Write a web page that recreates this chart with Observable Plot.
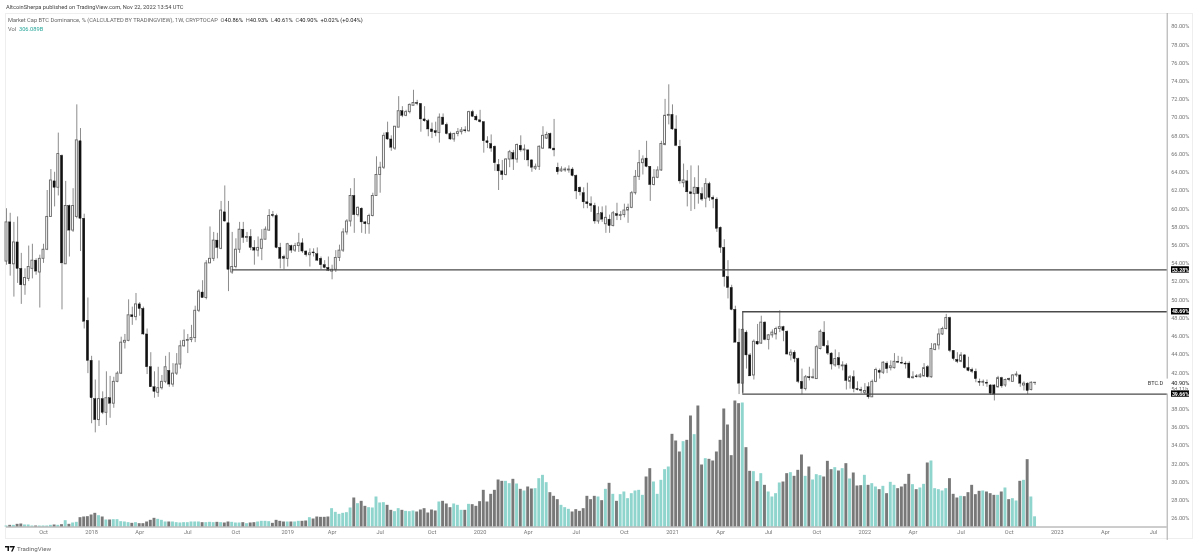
<!DOCTYPE html>
<html>
<head>
<meta charset="utf-8">
<script src="https://cdn.jsdelivr.net/npm/d3@7"></script>
<script src="https://cdn.jsdelivr.net/npm/@observablehq/plot@0.6"></script>
<style>
html,body{margin:0;padding:0;background:#fff;font-family:Roboto,sans-serif;}
#page{width:1200px;height:557px;overflow:hidden;position:relative;}
#head{height:13px;line-height:14px;font-size:5.7px;color:#444;padding-left:6px;box-sizing:border-box;filter:blur(.2px);}
#wrap{position:relative;width:1200px;height:527px;}
#wrap svg{position:absolute;left:0;top:0;filter:blur(.3px);}
#frame{position:absolute;left:5px;top:0;width:1188px;height:526px;border:1px solid #eee;box-sizing:border-box;}
#legend{position:absolute;left:8px;top:3px;font-size:5.7px;line-height:9px;color:#666;white-space:pre;filter:blur(.2px);}
#legend b{font-weight:400;color:#222;}
#legend i{font-style:normal;color:#26a69a;}
#foot{height:17px;display:flex;align-items:center;padding-left:5px;font-size:6.2px;color:#666;gap:2px;filter:blur(.2px);}
</style>
</head>
<body>
<div id="page">
<div id="head">AltcoinSherpa published on TradingView.com, Nov 22, 2022 13:54 UTC</div>
<div id="wrap">
<div id="frame"></div>
<div id="legend">Market Cap BTC Dominance, % (CALCULATED BY TRADINGVIEW), 1W, CRYPTOCAP  O<b>40.86%</b>  H<b>40.93%</b>  L<b>40.61%</b>  C<b>40.90%</b>  <b>+0.02% (+0.04%)</b>
Vol  <i>306.089B</i></div>
</div>
<div id="foot"><svg width="10" height="6" viewBox="0 0 10 6"><path d="M0 0H4V5H2.5V1.5H0ZM4.6 0H10L7.6 5.6H6L8 1.4H4.6Z" fill="#111"/></svg><span>TradingView</span></div>
</div>
<script>
const opens = [
54.2,58.5,53.9,56.3,53.4,51.6,52.3,53.4,54.3,53.0,
54.5,55.5,59.1,63.0,62.3,65.8,53.9,60.3,57.6,59.1,
67.4,58.9,47.7,43.3,39.1,36.8,39.1,37.6,39.2,38.6,
41.0,41.9,45.3,45.5,48.3,48.1,49.5,49.0,46.2,42.6,
40.4,39.8,40.3,41.0,42.2,40.7,41.9,42.9,44.9,45.5,
45.6,45.8,48.8,50.8,50.2,54.0,54.5,56.5,55.6,59.6,
58.4,53.0,53.6,55.5,57.7,56.8,56.9,55.7,55.4,55.6,
56.6,57.6,59.3,59.2,55.7,54.7,54.5,55.9,55.4,55.9,
56.2,55.3,54.9,55.2,55.0,54.5,53.8,53.5,53.1,53.3,
54.6,55.4,57.4,58.6,61.4,59.3,60.0,58.5,58.3,59.2,
61.4,63.7,64.5,68.3,67.6,66.6,68.9,70.7,70.2,70.6,
71.3,71.6,71.5,69.8,69.6,68.7,68.5,68.3,70.0,69.2,
68.2,67.6,68.2,68.4,68.6,68.5,70.6,70.1,69.7,69.5,
67.4,67.1,66.8,64.8,64.1,63.7,65.4,66.1,65.4,66.9,
66.4,66.4,65.3,64.4,64.6,66.6,67.7,68.2,66.6,64.5,
64.1,64.2,64.2,64.3,63.6,62.3,61.7,60.7,60.5,60.3,
58.6,59.5,58.3,58.8,58.1,59.4,59.2,59.3,59.8,60.1,
61.7,63.5,65.0,65.5,64.6,62.6,63.4,64.2,67.0,70.2,
70.3,68.7,66.8,62.8,63.0,61.8,61.6,62.3,61.6,61.1,
62.7,61.2,61.0,57.9,55.7,52.5,51.3,48.9,45.3,40.8,
46.4,43.9,41.7,45.4,45.2,47.5,45.6,46.1,46.2,46.8,
47.0,46.5,43.9,44.2,43.5,41.0,40.2,41.5,41.4,41.3,
44.6,46.4,44.9,44.1,42.8,43.6,42.7,42.8,41.0,41.5,
40.2,40.1,39.8,40.4,39.3,41.0,42.2,42.0,43.0,42.5,
42.5,43.2,43.1,43.0,43.0,41.4,41.6,41.5,41.6,42.6,
41.5,44.5,45.0,46.2,46.8,48.0,44.4,43.4,43.2,43.9,
42.5,42.3,42.1,41.0,40.9,40.9,40.6,40.6,40.4,41.4,
40.6,41.3,41.0,41.7,41.7,40.6,40.8,40.1,40.86];
const highs = [
60.0,59.5,58.5,59.1,55.1,53.4,55.9,56.1,54.5,54.9,
56.1,62.0,64.3,64.0,68.3,65.9,63.0,60.4,62.2,71.4,
68.8,59.4,50.2,43.8,41.2,43.3,39.9,42.1,41.6,41.5,
42.1,45.9,46.2,50.0,49.2,50.7,49.7,49.2,46.8,44.2,
42.1,42.6,41.7,43.8,44.2,43.0,44.1,45.5,46.7,46.2,
47.2,49.3,51.1,52.1,54.3,58.0,57.4,57.3,60.8,62.5,
60.8,57.4,56.7,58.5,58.5,57.4,57.7,56.5,56.9,57.7,
58.0,59.9,59.7,59.4,56.2,54.9,56.2,56.0,56.2,57.3,
56.7,55.4,55.6,55.6,55.7,54.7,54.3,54.7,53.8,55.4,
56.0,57.8,58.8,62.2,63.3,60.2,60.1,58.6,59.4,61.7,
65.7,65.1,68.3,69.5,68.0,69.0,72.3,71.2,70.8,71.5,
73.0,71.9,71.5,71.2,69.8,69.4,69.5,70.4,70.4,69.4,
68.4,68.3,68.8,68.9,69.0,70.7,70.8,70.3,70.8,69.5,
67.9,68.1,66.9,65.4,65.3,65.5,66.4,66.4,67.1,68.0,
67.0,66.5,65.4,64.9,66.9,69.0,68.4,68.3,69.8,65.0,
64.6,64.5,64.7,64.5,63.7,62.4,62.3,62.8,61.3,60.6,
60.2,60.2,60.3,59.3,59.7,60.6,59.7,60.5,60.5,61.9,
64.2,66.4,65.8,67.4,64.6,64.3,64.6,67.4,72.0,73.6,
71.4,70.2,67.5,64.9,64.2,64.7,63.4,64.7,62.3,63.3,
62.9,61.4,61.2,58.0,56.6,54.3,51.6,49.3,46.8,46.8,
46.6,44.1,45.6,47.3,48.2,47.6,46.2,46.7,47.0,48.8,
47.1,46.6,44.5,44.4,43.6,42.4,41.7,42.6,42.4,45.0,
46.7,47.6,45.5,44.2,44.5,44.2,43.2,43.0,41.7,42.2,
41.0,40.4,40.8,40.9,41.2,42.5,42.4,43.2,43.2,43.3,
44.1,43.8,43.7,43.2,43.2,42.1,41.8,41.9,43.0,42.8,
45.2,45.2,46.8,47.0,48.4,48.1,44.4,44.2,44.2,44.0,
43.7,42.5,42.4,41.3,41.2,41.2,40.7,40.7,41.6,41.5,
41.3,41.4,41.8,42.1,41.8,41.0,40.9,41.0,40.93];
const lows = [
53.8,52.6,50.3,51.8,49.5,50.5,52.0,52.3,52.7,49.1,
54.0,55.4,59.1,60.2,61.4,48.9,53.9,54.7,57.4,58.9,
55.3,46.8,41.9,36.4,35.4,36.1,37.4,36.2,37.0,38.1,
40.9,41.8,44.6,45.4,47.2,47.7,48.2,46.1,41.8,40.4,
39.2,39.3,40.1,40.8,40.4,40.4,41.7,42.4,44.8,44.1,
45.3,45.3,48.6,50.2,50.0,54.0,54.2,54.5,55.5,58.5,
50.9,52.8,53.4,55.1,56.2,56.3,55.4,53.8,54.7,54.3,
56.6,57.5,59.0,55.6,53.4,53.3,53.6,55.1,55.2,55.2,
55.1,54.7,53.6,54.7,54.2,53.3,53.4,53.1,52.2,53.0,
54.2,55.2,57.1,58.0,57.3,59.1,57.3,57.2,57.2,59.1,
61.4,61.7,64.3,67.5,66.3,66.4,68.9,70.0,70.1,70.4,
71.3,71.3,68.4,69.5,67.9,67.7,67.9,67.2,69.2,68.1,
67.5,67.3,67.9,68.1,68.3,68.4,70.0,69.6,69.4,66.1,
66.6,66.2,64.1,62.0,63.1,63.6,64.5,64.2,65.0,66.2,
65.3,64.6,64.0,64.2,64.2,66.5,67.6,66.5,65.7,63.7,
64.0,64.0,63.9,63.5,61.0,61.4,60.0,60.0,59.6,58.3,
58.3,58.5,57.3,57.3,58.0,58.7,58.7,59.0,58.4,60.0,
61.5,63.1,63.7,64.5,60.8,62.5,63.3,64.1,66.9,69.2,
68.6,66.8,62.7,62.3,60.2,59.7,59.9,60.5,60.8,60.1,
60.8,60.0,57.4,55.1,51.4,50.1,48.8,45.3,39.6,39.8,
42.4,41.6,41.2,45.0,45.1,45.5,44.5,45.8,45.6,46.4,
45.4,43.9,43.3,43.1,40.8,39.6,40.0,41.1,41.3,41.3,
44.5,44.8,43.9,42.3,42.6,42.4,42.2,40.1,40.2,39.8,
40.0,39.7,39.6,39.1,39.3,40.9,41.3,41.8,41.9,42.2,
42.4,43.0,42.9,42.4,41.3,41.3,41.4,41.4,41.5,41.4,
41.4,44.4,44.5,46.1,46.7,44.2,43.3,43.0,43.1,42.4,
42.1,41.9,40.9,40.5,40.5,40.4,39.5,38.9,40.3,40.3,
40.4,41.0,41.0,41.5,40.4,40.0,39.6,40.0,40.61];
const closes = [
58.5,53.9,56.3,53.4,51.6,52.4,53.6,54.3,53.1,54.5,
55.5,59.1,63.1,62.3,66.0,54.0,60.3,57.6,60.3,67.5,
58.9,47.6,43.3,39.2,36.8,39.1,37.6,39.2,38.6,41.0,
41.9,45.3,45.5,48.3,48.1,49.5,49.0,46.2,42.6,40.4,
39.9,40.3,41.0,42.6,40.7,41.9,42.9,44.9,45.5,45.6,
45.8,48.8,50.9,50.2,54.0,54.5,56.5,55.7,59.8,58.6,
53.3,53.6,55.5,57.7,56.8,56.9,55.7,55.4,55.7,56.6,
57.7,59.2,59.2,55.7,54.5,54.5,56.1,55.4,55.9,56.2,
55.3,54.9,55.1,55.1,54.3,53.8,53.5,53.2,53.3,54.6,
55.4,57.4,58.6,61.4,59.3,60.1,58.5,58.3,59.2,61.4,
63.7,64.5,68.0,67.6,66.7,69.0,70.7,70.2,70.6,71.4,
71.6,71.5,69.8,69.6,68.7,68.4,68.3,70.0,69.2,68.2,
67.6,68.2,68.4,68.6,68.5,70.6,70.1,69.7,69.5,67.4,
67.2,66.6,65.0,64.1,63.7,65.4,66.2,65.4,67.0,66.4,
66.5,65.3,64.5,64.6,66.8,68.0,68.1,66.6,66.4,64.0,
64.3,64.3,64.3,63.6,61.9,61.8,60.7,60.5,60.3,58.6,
59.4,58.8,59.0,58.1,59.5,59.2,59.3,59.8,60.1,61.7,
63.5,65.0,65.4,64.6,62.6,63.4,64.2,67.1,70.2,70.3,
68.7,66.9,63.0,63.1,61.8,61.6,62.3,61.6,61.0,62.7,
61.2,61.0,57.8,55.7,52.5,51.3,48.9,45.3,40.8,46.7,
43.9,41.6,45.4,45.1,47.5,45.6,46.1,46.4,46.8,47.0,
46.6,44.0,44.2,43.5,41.0,40.2,41.5,41.4,41.5,44.8,
46.5,44.9,44.1,42.9,43.5,42.8,42.8,41.1,41.5,40.2,
40.1,40.0,40.0,39.3,41.0,42.3,42.0,43.1,42.4,42.7,
43.2,43.1,43.0,42.9,41.4,41.5,41.5,41.7,42.5,41.5,
44.6,45.1,46.2,46.8,48.0,44.4,43.5,43.2,43.9,42.5,
42.2,42.1,41.3,40.9,41.0,40.8,39.7,39.6,41.4,40.5,
41.2,41.2,41.7,41.8,40.8,40.8,40.0,40.9,40.90];
const volumes = [
30,50,50,80,90,60,60,30,30,30,
30,30,50,60,50,70,190,80,120,140,
280,300,310,360,410,340,300,210,210,220,
220,160,150,130,110,130,100,100,150,200,
260,230,200,150,150,150,130,120,130,130,
150,150,150,130,130,140,130,140,130,120,
150,140,120,120,130,100,120,130,150,170,
170,160,110,200,170,150,150,150,150,170,
170,180,280,240,300,290,290,300,550,440,
380,410,430,570,870,700,770,620,580,570,
900,720,730,650,500,460,550,500,470,460,
480,450,510,550,420,510,480,750,770,690,
580,690,650,500,500,680,670,620,760,1100,
750,980,1100,1410,1370,1370,1300,1430,1290,1130,
1080,1200,1140,1150,1450,1550,1330,1030,920,820,
650,580,530,450,520,470,550,920,820,920,
900,790,1130,1310,980,770,970,1050,850,1000,
1080,1100,950,1500,1750,1350,980,1400,1720,1800,
2780,2580,2250,2560,2600,3330,2770,3630,1860,2050,
2030,1980,2250,2600,3540,3060,2140,3780,3700,3720,
2380,1670,1660,1360,1600,1250,1050,900,1000,1320,
1350,1600,1630,1520,1700,2160,1520,1800,1410,1570,
1540,1500,1970,1720,1780,1680,1750,1900,1440,1620,
1230,1240,1550,1250,1300,1200,1120,1220,1000,1340,
1250,1150,1200,1280,1580,1270,1120,1170,1280,1920,
1980,1150,1120,1080,1150,1450,980,870,920,910,
1030,1250,970,1070,1080,1050,1000,950,950,1050,
1170,820,850,780,1370,1400,2020,900,306];

const firstWeek = "2017-07-24";
const lastAxisDate = "2023-07-29";
const priceTicks = [80,78,76,74,72,70,68,66,64,62,60,58,56,54,52,50,48,46,44,42,38,36,34,32,30,28,26];
const timeTicks = ["2017-10-02","2018-01-01","2018-04-02","2018-07-02","2018-10-01","2019-01-07","2019-04-01","2019-07-01","2019-10-07","2020-01-06","2020-04-06","2020-07-06","2020-10-05","2021-01-04","2021-04-05","2021-07-05","2021-10-04","2022-01-03","2022-04-04","2022-07-04","2022-10-03","2023-01-02","2023-04-03","2023-07-03"];
const timeLabels = ["Oct","2018","Apr","Jul","Oct","2019","Apr","Jul","Oct","2020","Apr","Jul","Oct","2021","Apr","Jul","Oct","2022","Apr","Jul","Oct","2023","Apr","Jul"];
const levelValues = [53.28,48.69,39.66];
const levelStartWeeks = [61,199,199];
const TEAL = "#8fd4cd", GRAY = "#787878", INK = "#4a4a4a";
const FONT = "Roboto, sans-serif";

const start = new Date(firstWeek + "T00:00:00Z");
const end = new Date(lastAxisDate + "T00:00:00Z");
const weekOf = i => d3.utcDay.offset(start, 7 * i);
const rows = opens.map((o, i) => ({
  date: weekOf(i), o, h: highs[i], l: lows[i], c: closes[i], v: volumes[i], up: closes[i] >= o
}));
const left = (d, hours) => d3.utcHour.offset(d, -hours);
const right = (d, hours) => d3.utcHour.offset(d, hours);
const xScale = {type: "utc", domain: [start, end]};
const margins = {marginLeft: 6, marginRight: 33.3};

const volumePlot = Plot.plot({
  width: 1200, height: 527, ...margins, marginTop: 387.5, marginBottom: 13.5,
  x: xScale,
  y: {domain: [0, 3780], axis: null},
  style: {background: "transparent", fontFamily: FONT},
  marks: [
    Plot.rectY(rows, {x1: d => left(d.date, 66), x2: d => right(d.date, 66), y1: 0, y2: "v", fill: d => d.up ? TEAL : GRAY, inset: 0}),
    Plot.ruleY([0], {stroke: "#9a9a9a", strokeWidth: 1, x1: start, x2: end}),
    Plot.axisX({
      ticks: timeTicks.map(t => new Date(t + "T00:00:00Z")),
      tickFormat: d => timeLabels[timeTicks.indexOf(d3.utcFormat("%Y-%m-%d")(d))],
      tickSize: 0, tickPadding: 3, fontSize: 5.6, fill: "#777", label: null
    })
  ]
});

const levels = levelValues.map((y, i) => ({y, x1: weekOf(levelStartWeeks[i]), x2: end}));
const pct = d => d.toFixed(2) + "%";
const last = rows[rows.length - 1];
const axisGaps = [{y1: 23.6, y2: 39.66}, {y1: 41.3, y2: 81.43}];

const pricePlot = Plot.plot({
  width: 1200, height: 527, ...margins, marginTop: 13, marginBottom: 22,
  x: {...xScale, axis: null},
  y: {domain: [26, 80]},
  style: {background: "transparent", fontFamily: FONT},
  marks: [
    Plot.ruleX(axisGaps, {x: () => end, y1: "y1", y2: "y2", stroke: "#a5a5a5", strokeWidth: 1}),
    Plot.axisY({
      anchor: "right", ticks: priceTicks, tickFormat: pct, tickSize: 0, tickPadding: 4,
      fontSize: 5.6, fill: "#777", label: null
    }),
    Plot.ruleX(rows, {x: "date", y1: "l", y2: "h", stroke: "#6e6e6e", strokeWidth: 0.8}),
    Plot.rect(rows.filter(d => d.up), {
      x1: d => left(d.date, 44), x2: d => right(d.date, 44), y1: "o", y2: "c",
      fill: "white", stroke: "#666", strokeWidth: 0.9
    }),
    Plot.rect(rows.filter(d => !d.up), {
      x1: d => left(d.date, 50), x2: d => right(d.date, 50), y1: "o", y2: "c",
      fill: "#111", stroke: "#111", strokeWidth: 0.4
    }),
    Plot.ruleY(levels, {y: "y", x1: "x1", x2: "x2", stroke: INK, strokeWidth: 1.3}),
    Plot.ruleX([levels[1]], {x: "x1", y1: levelValues[2], y2: levelValues[1], stroke: INK, strokeWidth: 1.1}),
    Plot.rect(levelValues, {
      x1: () => d3.utcHour.offset(end, 195), x2: () => d3.utcHour.offset(end, 1010),
      y1: d => d - 0.35, y2: d => d + 0.35, fill: "black"
    }),
    Plot.text(levelValues, {
      x: () => end, y: d => d, dx: 13.3, text: pct, fontSize: 5.2, fontWeight: 700, fill: "white"
    }),
    Plot.text([last], {x: () => end, y: "c", dx: 4, text: d => pct(d.c), textAnchor: "start", fontSize: 5.6, fill: "#222"}),
    Plot.text([last], {x: () => end, y: "c", dx: -4, text: () => "BTC.D", textAnchor: "end", fontSize: 5.6, fill: "#333"}),
    Plot.text([last], {x: () => end, y: "c", dx: 4, dy: 6, text: () => "5d 11h", textAnchor: "start", fontSize: 5.6, fill: "#777"})
  ]
});

document.getElementById("wrap").append(volumePlot, pricePlot);
</script>
</body>
</html>
